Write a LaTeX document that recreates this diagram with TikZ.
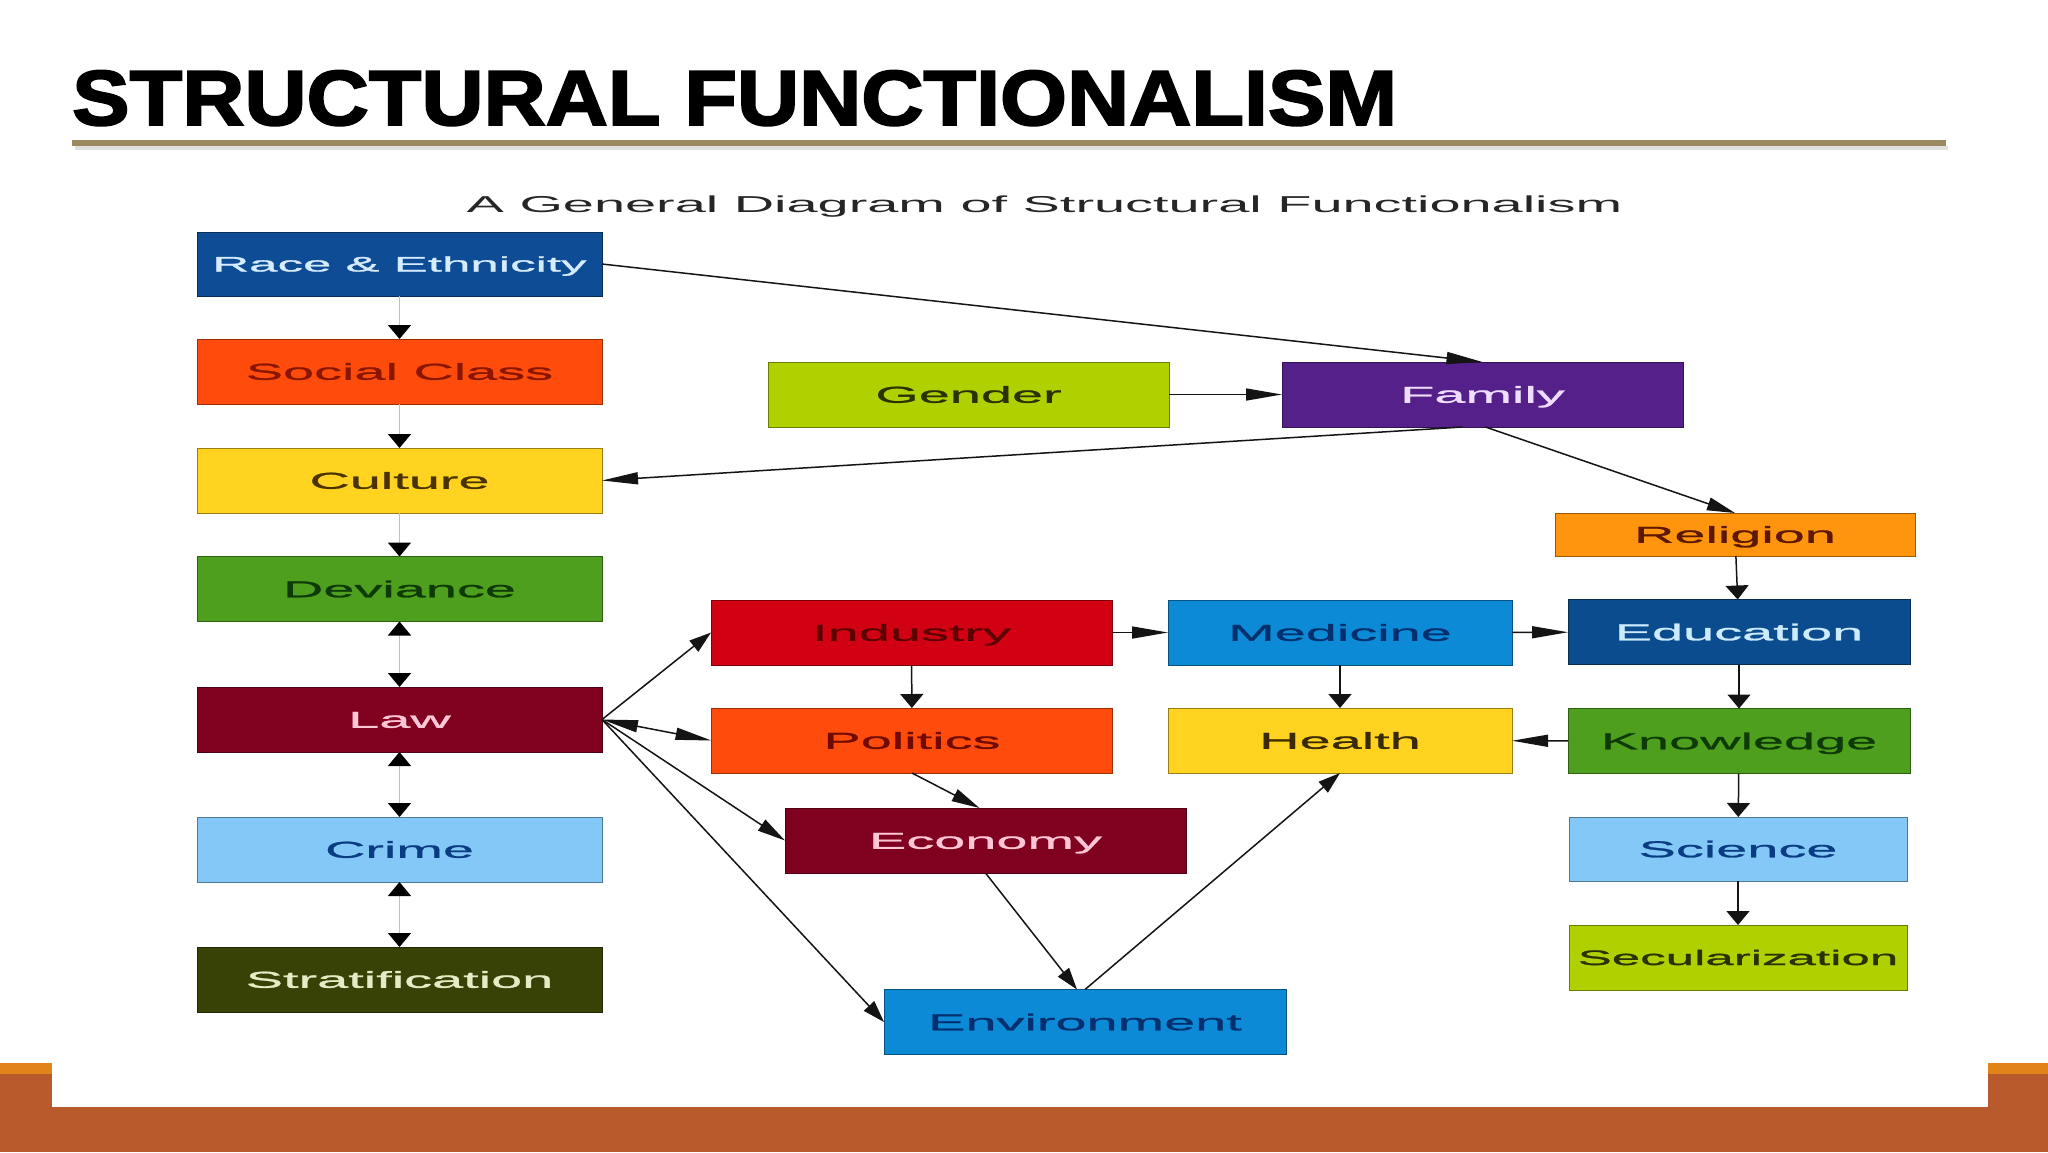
\documentclass[tikz,border=0pt]{standalone}
\usepackage{fontspec}
\setmainfont{Liberation Sans}
\newfontfamily\subfont[FakeStretch=2.43]{Liberation Sans}
\newfontfamily\boxfont[FakeStretch=2.43,FakeBold=1.2]{Liberation Sans}
\newfontfamily\titlefont[FakeStretch=1.104,BoldFeatures={FakeBold=2.5}]{Liberation Sans}
\usetikzlibrary{arrows.meta}
\definecolor{raceC}{HTML}{0E4D96}\definecolor{raceT}{HTML}{D5EBFF}
\definecolor{socialC}{HTML}{FF4C0C}\definecolor{socialT}{HTML}{8A1500}
\definecolor{cultureC}{HTML}{FFD320}\definecolor{cultureT}{HTML}{4A3300}
\definecolor{devC}{HTML}{4F9F1E}\definecolor{devT}{HTML}{0E3A06}
\definecolor{lawC}{HTML}{80001F}\definecolor{lawT}{HTML}{FFC6D6}
\definecolor{crimeC}{HTML}{84C8F8}\definecolor{crimeT}{HTML}{0A3C82}
\definecolor{stratC}{HTML}{394206}\definecolor{stratT}{HTML}{E4ECC6}
\definecolor{genderC}{HTML}{B0D000}\definecolor{genderT}{HTML}{2A3300}
\definecolor{familyC}{HTML}{55208A}\definecolor{familyT}{HTML}{EEDDFF}
\definecolor{religionC}{HTML}{FF940E}\definecolor{religionT}{HTML}{5C1800}
\definecolor{industryC}{HTML}{D10012}\definecolor{industryT}{HTML}{5C0000}
\definecolor{medicineC}{HTML}{0C8AD6}\definecolor{medicineT}{HTML}{022F6E}
\definecolor{eduC}{HTML}{0B4C8E}\definecolor{eduT}{HTML}{CDEBFF}
\definecolor{politicsT}{HTML}{6E0A00}
\definecolor{healthT}{HTML}{3A2A00}
\definecolor{ruleC}{HTML}{9B8A60}
\definecolor{orangeL}{HTML}{E2831A}
\definecolor{orangeD}{HTML}{B85A2B}
\begin{document}
\begin{tikzpicture}[x=1pt,y=-1pt,
  sbox/.style n args={4}{draw=#1!60!black, line width=1pt, fill=#1, text=#2,
    minimum width=#3, minimum height=#4, inner sep=0pt, outer sep=0pt,
    font=\boxfont\fontsize{23}{23}\selectfont, text height=16.5pt, text depth=0pt},
  small/.style={font=\boxfont\fontsize{21}{21}\selectfont, text height=15pt},
  lnk/.style={line width=1.5pt, draw=black!92},
  harr/.style={lnk, -{Triangle[length=36pt,width=12pt]}},
  varr/.style={lnk, -{Triangle[length=14pt,width=23pt]}},
  darr/.style={lnk, -{Triangle[length=28pt,width=13pt]}},
  sarr/.style={lnk, -{Triangle[length=22pt,width=14pt]}},
  garr/.style={line width=1.5pt, draw=black!25, -{Triangle[length=14pt,width=23pt,color=black]}},
  gdarr/.style={line width=1.5pt, draw=black!25, {Triangle[length=14pt,width=23pt,color=black]}-{Triangle[length=14pt,width=23pt,color=black]}},
]
\useasboundingbox (0,0) rectangle (2048,1152);
\fill[white] (0,0) rectangle (2048,1152);
% bottom band
\fill[orangeL] (0,1063) rectangle (2048,1074);
\fill[orangeD] (0,1074) rectangle (2048,1152);
\fill[white] (52,1040) rectangle (1988,1107);
% title and rule
\node[anchor=base west, inner sep=0pt, font=\titlefont\bfseries\fontsize{78}{78}\selectfont] (title) at (72,125) {STRUCTURAL FUNCTIONALISM};
\fill[black!12] (75,146) rectangle (1948,150);
\fill[ruleC] (72,140) rectangle (1946,146);
\node[anchor=base, inner sep=0pt, text=black!85, font=\subfont\fontsize{23}{23}\selectfont] (sub) at (1044.5,212) {A General Diagram of Structural Functionalism};
% left column
\node[sbox={raceC}{raceT}{405}{64}, small] (race) at (399.5,264) {Race \& Ethnicity};
\node[sbox={socialC}{socialT}{405}{65}] (social) at (399.5,371.5) {Social Class};
\node[sbox={cultureC}{cultureT}{405}{65}] (culture) at (399.5,480.5) {Culture};
\node[sbox={devC}{devT}{405}{65}] (deviance) at (399.5,589) {Deviance};
\node[sbox={lawC}{lawT}{405}{65}] (law) at (399.5,719.5) {Law};
\node[sbox={crimeC}{crimeT}{405}{65}] (crime) at (399.5,849.5) {Crime};
\node[sbox={stratC}{stratT}{405}{65}] (strat) at (399.5,979.5) {Stratification};
% middle
\node[sbox={genderC}{genderT}{401}{65}] (gender) at (968.5,394.5) {Gender};
\node[sbox={familyC}{familyT}{401}{65}] (family) at (1482.5,394.5) {Family};
\node[sbox={religionC}{religionT}{360}{43}] (religion) at (1735,534.5) {Religion};
\node[sbox={industryC}{industryT}{401}{65}] (industry) at (911.5,632.5) {Industry};
\node[sbox={medicineC}{medicineT}{344}{65}] (medicine) at (1340,632.5) {Medicine};
\node[sbox={eduC}{eduT}{342}{65}] (education) at (1739,632) {Education};
\node[sbox={socialC}{politicsT}{401}{65}] (politics) at (912,740.5) {Politics};
\node[sbox={cultureC}{healthT}{344}{65}] (health) at (1340,740.5) {Health};
\node[sbox={devC}{devT}{342}{65}] (knowledge) at (1739,741) {Knowledge};
\node[sbox={lawC}{lawT}{401}{65}] (economy) at (985.5,840.5) {Economy};
\node[sbox={crimeC}{crimeT}{338}{64}] (science) at (1738,849) {Science};
\node[sbox={genderC}{genderT}{338}{65}, small] (secular) at (1738,957.5) {Secularization};
\node[sbox={medicineC}{medicineT}{402}{65}] (environment) at (1085,1022) {Environment};
% left column connectors
\draw[garr] (race) -- (social);
\draw[garr] (social) -- (culture);
\draw[garr] (culture) -- (deviance);
\draw[gdarr] (deviance) -- (law);
\draw[gdarr] (law) -- (crime);
\draw[gdarr] (crime) -- (strat);
% top connectors
\draw[harr] (race.east) -- (family.north);
\draw[harr] (gender) -- (family);
\draw[harr] ([xshift=-20pt]family.south) -- (culture.east);
\draw[darr] ([xshift=3pt]family.south) -- (religion.north);
% right column
\draw[varr] (religion) -- (education);
\draw[varr] (education) -- (knowledge);
\draw[varr] (knowledge) -- (science);
\draw[varr] (science) -- (secular);
% middle grid
\draw[harr] (industry) -- (medicine);
\draw[harr] (medicine) -- (education);
\draw[varr] (industry) -- (politics);
\draw[varr] (medicine) -- (health);
\draw[harr] (knowledge) -- (health);
% from law
\draw[sarr] (law.east) -- (industry.west);
\draw[lnk, {Triangle[length=36pt,width=12pt]}-{Triangle[length=36pt,width=12pt]}] (law.east) -- (politics.west);
\draw[darr] (law.east) -- (economy.west);
\draw[sarr] (law.east) -- (environment.west);
% lower
\draw[darr] (politics.south) -- ([xshift=-6pt]economy.north);
\draw[sarr] (economy.south) -- ([xshift=-8pt]environment.north);
\draw[sarr] (environment.north) -- (health.south);
\end{tikzpicture}
\end{document}
